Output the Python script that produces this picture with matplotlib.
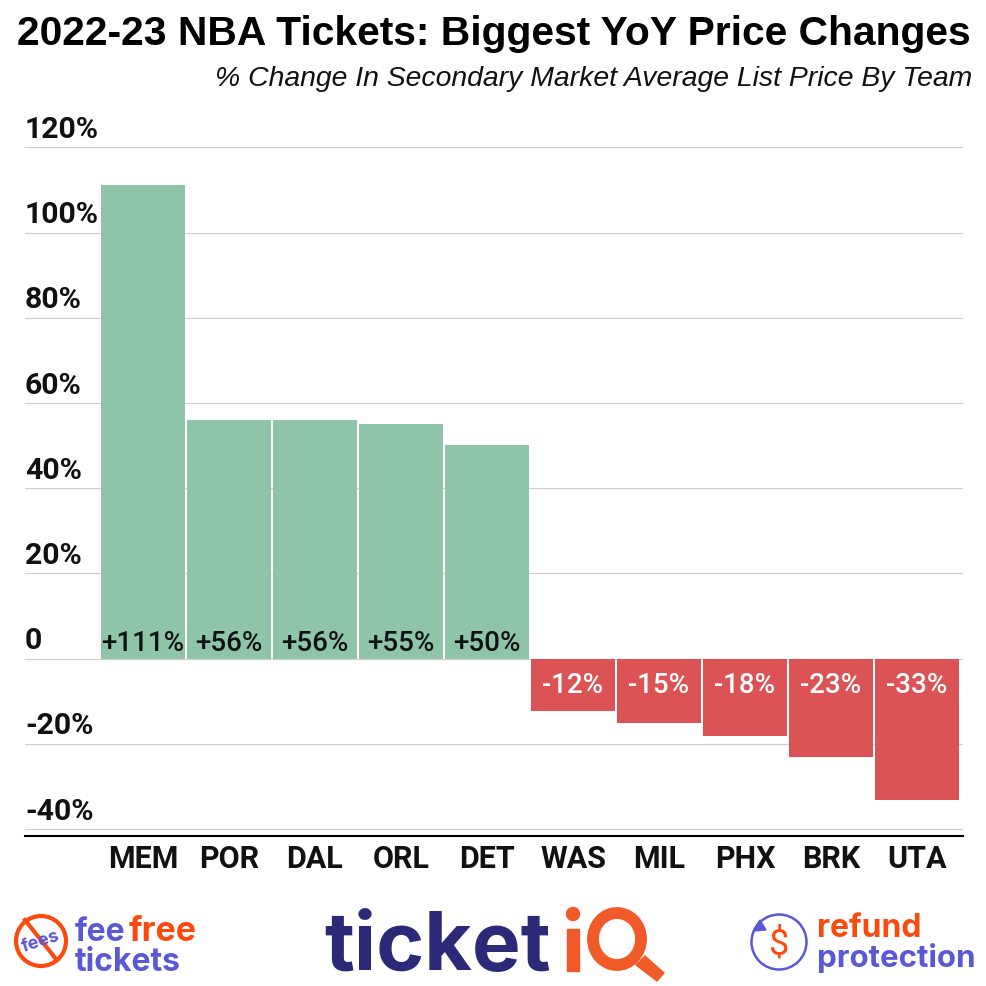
import matplotlib
matplotlib.use("Agg")
import matplotlib.pyplot as plt
from matplotlib.patches import Circle, Ellipse, Polygon, Rectangle

teams = ["MEM", "POR", "DAL", "ORL", "DET", "WAS", "MIL", "PHX", "BRK", "UTA"]
changes = [111.1, 56.1, 56.1, 55.0, 50.2, -12.2, -15, -18.1, -23.2, -33.2]
yticks = [-40, -20, 0, 20, 40, 60, 80, 100, 120]
ylabels = ["-40%", "-20%", "0", "20%", "40%", "60%", "80%", "100%", "120%"]

GREEN = "#8ec4a8"
RED = "#dc5356"
NAVY = "#2c2a78"
ORANGE = "#f15a29"
RORANGE = "#fc4a0f"
PURPLE = "#5a58d6"

W = 987.0
fig = plt.figure(figsize=(9.87, 9.87), dpi=100)

# axes box in pixels
left, right, top, bottom = 25, 963, 148.3, 836.5
ax = fig.add_axes([left / W, 1 - bottom / W, (right - left) / W, (bottom - top) / W])

ax.set_xlim(-1.372, 9.535)
ax.set_ylim(-41.51, 120)
ax.grid(axis="y", color="#cccccc", lw=0.8)
ax.set_axisbelow(True)
for s in ["top", "left", "right"]:
    ax.spines[s].set_visible(False)
ax.spines["bottom"].set_linewidth(1.5)
ax.spines["bottom"].set_color("black")

colors = [GREEN if c > 0 else RED for c in changes]
ax.bar(range(len(teams)), changes, width=84 / 86, color=colors, zorder=2)

# value labels sit just inside the bar, next to zero
for i, c in enumerate(changes):
    if c > 0:
        ax.annotate("+%d%%" % round(c), (i, 0), xytext=(0, 6.5), textcoords="offset points",
                    ha="center", va="baseline", fontsize=20, family="Roboto",
                    fontweight="medium", color="#111111", zorder=3)
    else:
        ax.annotate("%d%%" % round(c), (i, 0), xytext=(0, -24), textcoords="offset points",
                    ha="center", va="baseline", fontsize=20, family="Roboto",
                    fontweight="medium", color="white", zorder=3)

ax.set_xticks(range(len(teams)))
ax.set_xticklabels(teams, family="Roboto", fontweight="bold", fontsize=22, color="#111111")
ax.tick_params(axis="x", length=0, pad=5.5)

ax.set_yticks(yticks)
ax.set_yticklabels([])
ax.tick_params(axis="y", length=0)
for v, lab in zip(yticks, ylabels):
    ax.annotate(lab, (0, v), xycoords=("axes fraction", "data"), xytext=(0, 3.2),
                textcoords="offset points", ha="left", va="bottom", family="Roboto",
                fontweight="bold", fontsize=21.8, color="#111111")

fig.text(494 / W, 1 - 34.2 / W, "2022-23 NBA Tickets: Biggest YoY Price Changes",
         ha="center", va="center", family="Liberation Sans", fontweight="bold",
         fontsize=29.3, color="black")
fig.text(972 / W, 1 - 79 / W, "% Change In Secondary Market Average List Price By Team",
         ha="right", va="center", family="Liberation Sans", style="italic",
         fontsize=20.4, color="#111111")

# logos, drawn in pixel coordinates on a full figure overlay
lg = fig.add_axes([0, 0, 1, 1])
lg.set_xlim(0, W)
lg.set_ylim(W, 0)
lg.axis("off")
lg.patch.set_alpha(0)

def logo_text(x, y, s, color, size):
    lg.text(x, y, s, color=color, fontsize=size, family="Inter", fontweight="bold",
            ha="left", va="baseline")

# fee free tickets
lg.add_patch(Circle((41, 942), 25, fill=False, ec=RORANGE, lw=3))
lg.plot([25, 56], [921, 960], color=RORANGE, lw=3)
lg.text(41, 942, "fees", color=PURPLE, fontsize=13, family="Inter", fontweight="bold",
        rotation=18, ha="center", va="center")
logo_text(75, 941, "fee", PURPLE, 23)
logo_text(129, 941, "free", RORANGE, 24.5)
logo_text(75, 971, "tickets", PURPLE, 23)

# ticketIQ
lg.text(324, 970.5, "ticket", color=NAVY, fontsize=59, family="Inter", fontweight="bold",
        ha="left", va="baseline")
lg.add_patch(Rectangle((567, 930), 12, 42, color=ORANGE))
lg.add_patch(Circle((573, 915), 6.5, color=ORANGE))
lg.add_patch(Ellipse((617, 940), 48, 52, fill=False, ec=ORANGE, lw=8.5))
lg.add_patch(Polygon([[636, 966], [645, 957], [664, 974], [657, 982]], color=ORANGE))

# refund protection
lg.add_patch(Circle((779, 943), 27.5, fill=False, ec=PURPLE, lw=1.8))
lg.add_patch(Polygon([[753, 932], [760, 921], [766, 931]], color=PURPLE))
lg.text(779, 944, "$", color=RORANGE, fontsize=26, family="Roboto",
        ha="center", va="center")
logo_text(817, 937, "refund", RORANGE, 23)
logo_text(817, 967, "protection", PURPLE, 22.5)

fig.savefig("out.png", dpi=100)
